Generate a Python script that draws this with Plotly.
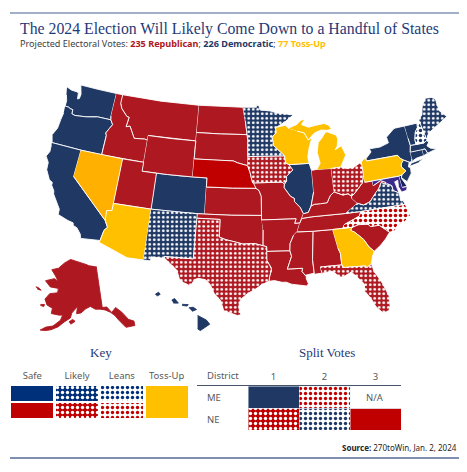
import numpy as np
import plotly.graph_objects as go

# state outlines as (lon, lat), None starts another polygon of the same state
WA = [(-124.7,48.38),(-123.9,48.17),(-123.1,48.15),(-122.75,48.1),(-122.6,47.4),(-122.35,47.5),(-122.3,48.0),(-122.5,48.45),(-122.75,49.0),(-120,49),(-117.03,49),(-117.04,46.42),(-116.92,45.99),(-118.98,46.0),(-119.3,45.93),(-120.5,45.72),(-121.2,45.65),(-122.25,45.55),(-122.76,45.65),(-122.8,46.1),(-123.2,46.15),(-123.55,46.26),(-124.05,46.27),(-124.1,46.9),(-124.4,47.5)]
OR = [(-124.05,46.27),(-123.55,46.26),(-123.2,46.15),(-122.8,46.1),(-122.76,45.65),(-122.25,45.55),(-121.2,45.65),(-120.5,45.72),(-119.3,45.93),(-118.98,46.0),(-116.92,45.99),(-116.5,45.5),(-116.85,45.0),(-117.2,44.45),(-117.03,44.2),(-117.03,42),(-120,42),(-124.2,42),(-124.55,42.84),(-124.1,43.7),(-124.05,44.7),(-123.95,45.5)]
CA = [(-124.2,42),(-120,42),(-120,39),(-114.63,35),(-114.15,34.3),(-114.5,33.9),(-114.72,32.72),(-117.12,32.53),(-117.3,33.0),(-117.9,33.6),(-118.4,33.75),(-118.5,34.03),(-119.2,34.15),(-120.6,34.55),(-120.65,35.15),(-121.9,36.6),(-122.0,36.95),(-122.5,37.5),(-122.5,37.8),(-123.0,38.0),(-123.75,39.0),(-123.85,39.8),(-124.4,40.4),(-124.1,41.0),(-124.2,41.75)]
NV = [(-120,42),(-117.03,42),(-114.04,42),(-114.04,37),(-114.05,36.2),(-114.7,36.1),(-114.63,35),(-120,39)]
AZ = [(-114.7,36.1),(-114.05,36.2),(-114.04,37),(-109.05,37),(-109.05,31.33),(-111.07,31.33),(-114.8,32.5),(-114.72,32.72),(-114.5,33.9),(-114.15,34.3),(-114.63,35)]
ID = [(-117.03,49),(-116.05,49),(-116.05,48),(-115.7,47.45),(-114.7,46.7),(-114.35,46.65),(-114.5,45.56),(-113.95,45.7),(-113.45,45.05),(-113.0,44.45),(-111.5,44.55),(-111.05,44.48),(-111.05,42),(-114.04,42),(-117.03,42),(-117.03,44.2),(-117.2,44.45),(-116.85,45),(-116.5,45.5),(-116.92,45.99),(-117.04,46.42)]
MT = [(-116.05,49),(-110,49),(-104.05,49),(-104.05,45),(-111.05,45),(-111.05,44.48),(-111.5,44.55),(-113,44.45),(-113.45,45.05),(-113.95,45.7),(-114.5,45.56),(-114.35,46.65),(-114.7,46.7),(-115.7,47.45),(-116.05,48)]
WY = [(-111.05,45),(-107.5,45),(-104.05,45),(-104.05,41),(-107.5,41),(-111.05,41)]
UT = [(-114.04,42),(-111.05,42),(-111.05,41),(-109.05,41),(-109.05,37),(-114.04,37)]
CO = [(-109.05,41),(-105.5,41),(-102.05,41),(-102.05,37),(-105.5,37),(-109.05,37)]
NM = [(-109.05,37),(-103,37),(-103.05,32),(-106.62,32),(-106.53,31.78),(-108.2,31.78),(-108.2,31.33),(-109.05,31.33)]
ND = [(-104.05,49),(-100.5,49),(-97.23,49),(-96.85,47.5),(-96.56,45.94),(-100.5,45.94),(-104.05,45.94)]
SD = [(-104.05,45.94),(-100.5,45.94),(-96.56,45.94),(-96.45,45.3),(-96.45,43.5),(-96.45,42.49),(-97.9,42.8),(-98.5,43.0),(-101.5,43),(-104.05,43),(-104.05,45)]
NE = [(-104.05,43),(-101.5,43),(-98.5,43),(-97.9,42.8),(-96.45,42.49),(-96.1,41.7),(-95.9,41.0),(-95.31,40),(-98.5,40),(-102.05,40),(-102.05,41),(-104.05,41)]
KS = [(-102.05,40),(-98.5,40),(-95.31,40),(-94.9,39.75),(-94.6,39.1),(-94.62,37),(-98.5,37),(-102.05,37)]
OK = [(-103,37),(-98.5,37),(-94.62,37),(-94.43,35.4),(-94.48,33.64),(-95.5,33.9),(-97.0,33.85),(-98.1,34.1),(-99.2,34.3),(-100,34.56),(-100,36.5),(-103,36.5)]
TX = [(-103,36.5),(-100,36.5),(-100,34.56),(-99.2,34.3),(-98.1,34.1),(-97,33.85),(-95.5,33.9),(-94.48,33.64),(-94.04,33.55),(-94.04,33.02),(-94.04,32),(-93.55,31.2),(-93.53,30.9),(-93.75,30.3),(-93.85,29.7),(-94.7,29.35),(-95.4,28.9),(-96.4,28.35),(-97.2,27.7),(-97.4,26.9),(-97.15,25.97),(-97.55,25.9),(-99.1,26.4),(-99.5,27.5),(-100.3,28.3),(-100.8,29.25),(-101.4,29.77),(-102.3,29.88),(-102.7,29.7),(-103.15,28.98),(-104.0,29.3),(-104.5,29.65),(-104.9,30.6),(-106.53,31.78),(-106.62,32),(-103.05,32)]
MN = [(-97.23,49),(-95.15,49),(-95.15,49.38),(-94.8,49.3),(-94.6,48.7),(-93.0,48.55),(-92,48.3),(-90.8,48.2),(-89.5,48.0),(-90.8,47.3),(-92.05,46.72),(-92.3,46.65),(-92.29,46.1),(-92.9,45.6),(-92.75,45),(-92.8,44.75),(-91.22,43.5),(-93.8,43.5),(-96.45,43.5),(-96.45,45.3),(-96.56,45.94),(-96.85,47.5)]
IA = [(-96.45,43.5),(-93.8,43.5),(-91.22,43.5),(-91.1,42.7),(-90.64,42.5),(-90.15,41.9),(-90.9,41.4),(-91.1,41.2),(-91.1,40.7),(-91.42,40.38),(-91.73,40.61),(-93.8,40.6),(-95.77,40.59),(-95.9,41),(-96.1,41.7),(-96.45,42.49)]
MO = [(-95.77,40.59),(-93.8,40.6),(-91.73,40.61),(-91.42,40.38),(-91.5,40.0),(-90.7,39.0),(-90.2,38.75),(-90.2,38.4),(-89.5,37.7),(-89.15,37.0),(-89.4,36.5),(-89.7,36),(-90.37,36),(-90.15,36.5),(-94.62,36.5),(-94.62,37),(-94.6,39.1),(-94.9,39.75),(-95.31,40)]
AR = [(-94.62,36.5),(-90.15,36.5),(-90.37,36),(-89.7,36),(-90.1,35.1),(-90.6,34.7),(-91.1,33.8),(-91.17,33),(-94.04,33.02),(-94.04,33.55),(-94.48,33.64),(-94.43,35.4)]
LA = [(-94.04,33.02),(-91.17,33),(-91.0,32.4),(-91.6,31.0),(-89.75,31),(-89.85,30.65),(-89.5,30.2),(-89.4,30.05),(-89.4,29.8),(-89.2,29.25),(-89.4,29.0),(-90.2,29.1),(-91.2,29.3),(-91.8,29.55),(-92.3,29.55),(-93.2,29.77),(-93.85,29.7),(-93.75,30.3),(-93.53,30.9),(-93.55,31.2),(-94.04,32)]
MS = [(-90.1,35.05),(-88.2,35),(-88.1,34.9),(-88.47,31.9),(-88.4,30.37),(-89.5,30.2),(-89.85,30.65),(-89.75,31),(-91.6,31),(-91,32.4),(-91.17,33),(-91.1,33.8),(-90.6,34.7)]
AL = [(-88.2,35),(-85.6,35),(-85.2,32.85),(-85,32.3),(-85,31),(-87.6,31),(-87.5,30.3),(-88.4,30.25),(-88.47,31.9),(-88.1,34.9)]
GA = [(-85.6,35),(-84.32,35),(-83.1,35),(-83.35,34.7),(-82.9,34.45),(-81.9,33.5),(-81.4,32.6),(-80.85,32.05),(-81.15,31.55),(-81.45,30.75),(-82.05,30.36),(-82.2,30.57),(-84.85,30.7),(-85,31),(-85,32.3),(-85.2,32.85)]
FL = [(-87.6,31),(-85,31),(-84.85,30.7),(-82.2,30.57),(-82.05,30.36),(-81.45,30.75),(-81.3,29.9),(-80.55,28.4),(-80.05,26.9),(-80.15,25.75),(-80.4,25.2),(-81.1,25.15),(-81.75,25.95),(-82.15,26.9),(-82.75,27.8),(-82.65,28.6),(-83.4,29.5),(-84.0,30.1),(-85.0,29.65),(-85.4,29.7),(-86.2,30.4),(-87.5,30.3)]
SC = [(-83.35,34.7),(-83.1,35),(-82.3,35.2),(-81.05,35.1),(-80.8,34.82),(-79.67,34.8),(-78.55,33.86),(-79.2,33.2),(-79.95,32.6),(-80.85,32.05),(-81.4,32.6),(-81.9,33.5),(-82.9,34.45)]
NC = [(-84.32,35),(-83.1,35),(-82.3,35.2),(-81.05,35.1),(-80.8,34.82),(-79.67,34.8),(-78.55,33.86),(-77.9,33.9),(-77.4,34.45),(-76.5,34.65),(-75.55,35.25),(-75.85,36.55),(-81.68,36.59),(-82,36.1),(-83,35.75),(-84.05,35.4)]
TN = [(-90.1,35.05),(-88.2,35),(-85.6,35),(-84.32,35),(-84.05,35.4),(-83,35.75),(-82,36.1),(-81.68,36.59),(-83.68,36.6),(-88.07,36.6),(-89.4,36.5),(-89.7,36)]
KY = [(-89.4,36.5),(-88.07,36.6),(-83.68,36.6),(-81.97,37.54),(-82.6,38.17),(-82.6,38.42),(-83.0,38.72),(-83.7,38.65),(-84.8,39.1),(-85.4,38.73),(-85.9,38.0),(-86.8,37.95),(-87.6,37.95),(-88.05,37.8),(-88.5,37.1),(-89.15,37)]
VA = [(-83.68,36.6),(-81.68,36.59),(-75.85,36.55),(-76.0,37.0),(-76.3,37.0),(-76.3,37.9),(-77.0,38.3),(-77.05,38.85),(-77.5,39.1),(-77.83,39.13),(-78.35,39.4),(-78.85,38.75),(-79.3,38.42),(-80.3,37.5),(-81.2,37.25),(-81.97,37.54)]
WV = [(-81.97,37.54),(-81.2,37.25),(-80.3,37.5),(-79.3,38.42),(-78.85,38.75),(-78.35,39.4),(-77.83,39.13),(-77.72,39.32),(-78.4,39.62),(-79.48,39.2),(-79.48,39.72),(-80.52,39.72),(-80.52,40.64),(-80.85,39.7),(-81.7,39.0),(-82.2,38.6),(-82.6,38.42),(-82.6,38.17)]
OH = [(-84.8,41.7),(-83.45,41.73),(-82.7,41.5),(-81.7,41.5),(-80.52,41.98),(-80.52,40.64),(-80.85,39.7),(-81.7,39),(-82.2,38.6),(-82.6,38.42),(-83,38.72),(-83.7,38.65),(-84.8,39.1)]
IN = [(-87.53,41.7),(-87.2,41.75),(-86.8,41.76),(-84.8,41.7),(-84.8,39.1),(-85.4,38.73),(-85.9,38.0),(-86.8,37.95),(-87.6,37.95),(-88.05,37.8),(-87.55,39.3)]
IL = [(-90.64,42.5),(-87.8,42.5),(-87.6,41.85),(-87.53,41.7),(-87.55,39.3),(-88.05,37.8),(-88.5,37.1),(-89.15,37),(-89.5,37.7),(-90.2,38.4),(-90.2,38.75),(-90.7,39),(-91.5,40),(-91.42,40.38),(-91.1,40.7),(-91.1,41.2),(-90.9,41.4),(-90.15,41.9)]
WI = [(-92.05,46.72),(-90.8,46.9),(-90.4,46.55),(-89.1,46.15),(-88.1,45.9),(-87.6,45.1),(-87.0,45.3),(-87.3,44.8),(-87.55,44.3),(-87.9,43.2),(-87.8,42.5),(-90.64,42.5),(-91.1,42.7),(-91.22,43.5),(-92.8,44.75),(-92.75,45),(-92.9,45.6),(-92.29,46.1),(-92.3,46.65)]
MI = [(-86.8,41.76),(-86.25,42.4),(-86.5,43.6),(-86.2,44.7),(-85.6,45.15),(-85.0,45.75),(-84.7,45.78),(-83.45,45.3),(-83.3,44.85),(-83.55,44.05),(-83.9,43.7),(-82.95,44.07),(-82.5,43.0),(-83.1,42.2),(-83.45,41.73),(-84.8,41.7),None,
      (-90.4,46.55),(-89.1,46.9),(-88.4,47.35),(-87.8,47.45),(-88.4,46.85),(-87.4,46.5),(-86.1,46.65),(-85.0,46.75),(-84.35,46.5),(-84.0,46.0),(-84.7,45.95),(-85.6,46.05),(-86.6,45.8),(-87.6,45.1),(-88.1,45.9),(-89.1,46.15)]
PA = [(-80.52,41.98),(-80.1,42.27),(-79.76,42.27),(-79.76,42),(-75.35,42),(-75.05,41.6),(-74.7,41.36),(-75.13,40.98),(-75.2,40.65),(-74.72,40.15),(-75.4,39.8),(-75.79,39.72),(-80.52,39.72)]
NY = [(-79.76,42.27),(-78.9,42.9),(-79.05,43.27),(-77.5,43.27),(-76.2,43.55),(-76.3,44.2),(-75,44.95),(-74.7,45),(-73.35,45),(-73.3,43.6),(-73.25,42.75),(-73.5,42.05),(-73.5,41.3),(-73.65,41.0),(-74.0,41.0),(-74.7,41.36),(-75.05,41.6),(-75.35,42),(-79.76,42),None,
      (-74.0,40.6),(-73.75,40.85),(-72.6,40.98),(-71.9,41.07),(-72.7,40.75)]
NJ = [(-74.7,41.36),(-74.0,41.0),(-74.25,40.5),(-74.0,40.4),(-74.1,39.75),(-74.9,38.95),(-75.55,39.5),(-75.4,39.8),(-74.72,40.15),(-75.2,40.65),(-75.13,40.98)]
DE = [(-75.79,39.72),(-75.4,39.8),(-75.55,39.45),(-75.05,38.45),(-75.7,38.46)]
MD = [(-79.48,39.72),(-75.79,39.72),(-75.7,38.46),(-75.05,38.45),(-75.25,38.03),(-75.95,37.95),(-76.2,38.6),(-76.1,39.3),(-76.55,39.2),(-76.45,38.4),(-76.3,37.9),(-77,38.3),(-77.05,38.85),(-77.5,39.1),(-77.83,39.13),(-77.72,39.32),(-78.4,39.62),(-79.48,39.2)]
CT = [(-73.5,42.05),(-71.8,42.02),(-71.8,41.35),(-72.9,41.25),(-73.65,41.0),(-73.5,41.3)]
RI = [(-71.8,42.02),(-71.38,42.02),(-71.2,41.5),(-71.8,41.35)]
MA = [(-73.5,42.05),(-73.25,42.75),(-72.45,42.73),(-71.3,42.7),(-70.85,42.87),(-70.6,42.65),(-71.0,42.3),(-70.6,41.95),(-70.05,41.8),(-70.0,42.05),(-69.95,41.7),(-70.65,41.55),(-71.2,41.5),(-71.38,42.02),(-71.8,42.02)]
VT = [(-73.35,45),(-71.5,45),(-71.6,44.5),(-72.05,44.1),(-72.4,43.3),(-72.45,42.73),(-73.25,42.75),(-73.3,43.6)]
NH = [(-71.5,45),(-71.1,45.3),(-70.8,43.1),(-70.7,43.07),(-70.85,42.87),(-71.3,42.7),(-72.45,42.73),(-72.4,43.3),(-72.05,44.1),(-71.6,44.5)]
ME = [(-71.1,45.3),(-70.4,45.8),(-70.25,46.2),(-70,46.7),(-69.2,47.45),(-68.3,47.35),(-67.8,47.07),(-67.8,45.7),(-67.0,44.85),(-68.5,44.3),(-69.5,43.85),(-70.3,43.6),(-70.7,43.07),(-70.8,43.1)]
AK = [(-141,69.65),(-141,60.3),(-139.1,60.3),(-137.5,58.9),(-135.5,59.8),(-133.5,58.5),(-131.8,56.6),(-130,55.9),(-130.2,54.9),(-131.5,55),(-133.5,55),(-135.5,57),(-136.5,58.1),(-138,59),(-140,59.7),(-142,60),(-144,60.1),(-146,60.8),(-148,60.3),(-150,59.4),(-151.8,59.2),(-151.5,60.8),(-152.6,60.2),(-153.8,59.3),(-154.2,58.2),(-156.5,57.2),(-158.5,56.0),(-161,55.1),(-163,54.7),(-164.8,54.6),(-163,55.5),(-160.5,56),(-158,57.5),(-157.4,58.7),(-158.8,58.6),(-162,58.7),(-162,59.9),(-164.5,60.4),(-166,61.6),(-164.5,63.0),(-161,63.5),(-161,64.5),(-165,64.5),(-168.1,65.6),(-164,66.5),(-161.8,66.1),(-163.8,67.2),(-166.5,68.35),(-163,69),(-160,70.4),(-156.6,71.35),(-152,70.85),(-146,70.15),None,
      (-154.7,57.3),(-153.3,57.9),(-152.3,57.5),(-153.9,56.8),None,
      (-171.7,63.7),(-170.3,63.7),(-168.8,63.3),(-170.5,63.3),None,
      (-167.2,60.2),(-165.6,60.4),(-165.7,59.9),(-167.2,60.0)]
HI = [(-159.75,22.05),(-159.45,22.23),(-159.3,22.05),(-159.6,21.9),None,
      (-158.25,21.55),(-158.0,21.7),(-157.65,21.3),(-158.1,21.3),None,
      (-157.3,21.2),(-156.75,21.17),(-156.85,21.05),(-157.3,21.1),None,
      (-156.7,20.9),(-156.3,20.95),(-156.0,20.75),(-156.4,20.6),None,
      (-155.9,20.25),(-155.1,19.85),(-154.8,19.5),(-155.65,18.95),(-155.9,19.1)]

OUTLINES = dict(WA=WA, OR=OR, CA=CA, NV=NV, AZ=AZ, ID=ID, MT=MT, WY=WY, UT=UT, CO=CO, NM=NM, ND=ND, SD=SD,
                NE=NE, KS=KS, OK=OK, TX=TX, MN=MN, IA=IA, MO=MO, AR=AR, LA=LA, MS=MS, AL=AL, GA=GA, FL=FL,
                SC=SC, NC=NC, TN=TN, KY=KY, VA=VA, WV=WV, OH=OH, IN=IN, IL=IL, WI=WI, MI=MI, PA=PA, NY=NY,
                NJ=NJ, DE=DE, MD=MD, CT=CT, RI=RI, MA=MA, VT=VT, NH=NH, ME=ME, AK=AK, HI=HI)

# ratings
SAFE_R = ["MT", "ID", "WY", "UT", "ND", "SD", "KS", "OK", "MO", "AR", "LA", "MS", "AL", "TN", "KY", "WV", "IN", "SC", "AK"]
SAFE_R_BRIGHT = ["NE"]
LIKELY_R = ["TX", "FL", "IA", "OH"]
LEANS_R = ["NC"]
TOSS_UP = ["AZ", "WI", "MI", "PA", "GA"]
TOSS_UP_DARK = ["NV"]
SAFE_D = ["WA", "OR", "CA", "CO", "IL", "NY", "VT", "MA", "CT", "RI", "NJ", "HI"]
SAFE_D_MD = ["MD"]
SAFE_D_DE = ["DE"]
LIKELY_D = ["MN", "NM", "VA", "ME"]
LEANS_D = ["NH"]

KEY_COLUMNS = ["Safe", "Likely", "Leans", "Toss-Up"]
KEY_REP = [1, 1, 1, 0]
KEY_DEM = [1, 1, 1, 0]
KEY_TOSS = [0, 0, 0, 2]
SPLIT_DISTRICTS = ["1", "2", "3"]
SPLIT_ME = [1, 1, 0]
SPLIT_NE = [1, 1, 1]

NAVY = "#1F3864"
RED = "#AE1820"
BRIGHT_RED = "#C00000"
GOLD = "#FFC000"
KEY_NAVY = "#00307A"
GREY = "#595959"
SANS = "Noto Sans"
SERIF = "Liberation Serif"

# the page body has an 8px margin, so the figure covers page pixels 8..467 and 8..472
PAGE_W, PAGE_H, BODY = 467, 472, 8


def albers(lon, lat, lon0, p1, p2):
    n = (np.sin(np.radians(p1)) + np.sin(np.radians(p2))) / 2
    c = np.cos(np.radians(p1)) ** 2 + 2 * n * np.sin(np.radians(p1))
    rho = np.sqrt(c - 2 * n * np.sin(np.radians(lat))) / n
    theta = n * np.radians(lon - lon0)
    return rho * np.sin(theta), rho * np.cos(theta)


def project(state, lon, lat):
    # map units line up with the page, 467 x 472
    if state == "AK":
        x, y = albers(lon, lat, -150, 55, 65)
        return 81 + 275 * x, 163 + 255 * y
    if state == "HI":
        return 202 + 11 * (lon + 155.5), 323 - 11.7 * (lat - 19.6)
    x, y = albers(lon, lat, -96, 29.5, 45.5)
    return 250.9 + 555.6 * x, 211 - 515 * (1.3033 - y)


def state_trace(state, color, pattern=None):
    xs, ys = [], []
    for pt in OUTLINES[state]:
        if pt is None:
            xs.append(None)
            ys.append(None)
        else:
            px_, py_ = project(state, pt[0], pt[1])
            xs.append(px_)
            ys.append(py_)
    kw = dict(fillpattern=pattern) if pattern else dict(fillcolor=color)
    # thin peninsulas and islands would vanish under a white outline
    line_color = color if state in ("AK", "HI") else "white"
    return go.Scatter(x=xs, y=ys, mode="lines", fill="toself", line=dict(color=line_color, width=0.9),
                      name=state, hoverinfo="name", showlegend=False, **kw)


likely_r = dict(shape=".", bgcolor=RED, fgcolor="white", size=4.5, solidity=0.3, fgopacity=1)
likely_d = dict(shape=".", bgcolor=NAVY, fgcolor="white", size=4.5, solidity=0.3, fgopacity=1)
leans_r = dict(shape=".", bgcolor="white", fgcolor=BRIGHT_RED, size=5, solidity=0.38, fgopacity=1)
leans_d = dict(shape=".", bgcolor="white", fgcolor=NAVY, size=5, solidity=0.38, fgopacity=1)

fig = go.Figure()
for group, color, pattern in [
    (SAFE_D, NAVY, None), (SAFE_R, RED, None), (SAFE_R_BRIGHT, BRIGHT_RED, None),
    (TOSS_UP, GOLD, None), (TOSS_UP_DARK, "#FFB000", None), (SAFE_D_MD, "#3B2A8C", None),
    (SAFE_D_DE, "#14235E", None), (LIKELY_R, RED, likely_r), (LIKELY_D, NAVY, likely_d),
    (LEANS_R, RED, leans_r), (LEANS_D, NAVY, leans_d),
]:
    for st in group:
        fig.add_trace(state_trace(st, color, pattern))

# key
key_line = dict(color="white", width=1.5)
fig.add_trace(go.Bar(x=KEY_COLUMNS, y=KEY_REP, xaxis="x2", yaxis="y2", marker=dict(
    color=BRIGHT_RED, line=key_line,
    pattern=dict(shape=["", ".", ".", ""], bgcolor=[BRIGHT_RED, BRIGHT_RED, "white", BRIGHT_RED],
                 fgcolor=["white", "white", BRIGHT_RED, "white"], size=5, solidity=0.35, fgopacity=1))))
fig.add_trace(go.Bar(x=KEY_COLUMNS, y=KEY_DEM, xaxis="x2", yaxis="y2", marker=dict(
    color=KEY_NAVY, line=key_line,
    pattern=dict(shape=["", ".", ".", ""], bgcolor=[KEY_NAVY, KEY_NAVY, "white", KEY_NAVY],
                 fgcolor=["white", "white", KEY_NAVY, "white"], size=5, solidity=0.35, fgopacity=1))))
fig.add_trace(go.Bar(x=KEY_COLUMNS, y=KEY_TOSS, xaxis="x2", yaxis="y2", marker=dict(color=GOLD, line=key_line)))

# split votes table
fig.add_trace(go.Bar(x=SPLIT_DISTRICTS, y=SPLIT_NE, xaxis="x3", yaxis="y3", width=1, marker=dict(
    color=BRIGHT_RED,
    pattern=dict(shape=[".", ".", ""], bgcolor=[BRIGHT_RED, "white", BRIGHT_RED],
                 fgcolor=["white", NAVY, "white"], size=5, solidity=0.35, fgopacity=1))))
fig.add_trace(go.Bar(x=SPLIT_DISTRICTS, y=SPLIT_ME, xaxis="x3", yaxis="y3", width=1, marker=dict(
    color=NAVY,
    pattern=dict(shape=["", ".", ""], bgcolor=[NAVY, "white", NAVY],
                 fgcolor=["white", BRIGHT_RED, "white"], size=5, solidity=0.35, fgopacity=1))))


def dom_x(a, b):
    return [(a - BODY) / (PAGE_W - BODY), (b - BODY) / (PAGE_W - BODY)]


def dom_y(top, bottom):
    return [(PAGE_H - bottom) / (PAGE_H - BODY), (PAGE_H - top) / (PAGE_H - BODY)]


small_tick = dict(size=9.5, color=GREY, family=SANS)
fig.update_layout(
    width=PAGE_W - BODY, height=PAGE_H - BODY, margin=dict(l=0, r=0, t=0, b=0),
    paper_bgcolor="white", plot_bgcolor="rgba(0,0,0,0)", showlegend=False,
    barmode="stack", bargap=0.03,
    xaxis=dict(range=[BODY, PAGE_W], visible=False, domain=[0, 1]),
    yaxis=dict(range=[PAGE_H, BODY], visible=False, domain=[0, 1]),
    xaxis2=dict(domain=dom_x(10, 189), anchor="y2", side="top", tickfont=small_tick, ticks="",
                showline=False, showgrid=False, zeroline=False, ticklabelstandoff=3),
    yaxis2=dict(domain=dom_y(385, 419), anchor="x2", range=[0, 2], visible=False),
    xaxis3=dict(domain=dom_x(248, 401), anchor="y3", side="top", tickfont=small_tick, ticks="",
                showline=False, showgrid=False, zeroline=False, ticklabelstandoff=3),
    yaxis3=dict(domain=dom_y(386, 430), anchor="x3", range=[0, 2], visible=False),
    shapes=[
        dict(type="line", xref="x", yref="y", x0=10, x1=463, y0=13, y1=13, line=dict(color="#44608F", width=1)),
        dict(type="line", xref="x", yref="y", x0=10, x1=463, y0=458, y1=458, line=dict(color="#002060", width=1)),
        dict(type="line", xref="x", yref="y", x0=197, x1=401, y0=385.5, y1=385.5, line=dict(color="#44546A", width=1)),
    ],
)


def label(x, y, text, size=9.5, color=GREY, family=SANS, anchor="left"):
    fig.add_annotation(x=x, y=y, xref="x", yref="y", text=text, showarrow=False, xanchor=anchor, yanchor="middle",
                       font=dict(size=size, color=color, family=family), borderpad=0, borderwidth=0)


label(20, 29, "The 2024 Election Will Likely Come Down to a Handful of States", size=15.8, color="#1F3A78", family=SERIF)
label(20, 43, 'Projected Electoral Votes: <span style="color:#AE1820"><b>235 Republican</b></span>; '
      '<span style="color:#1F3864"><b>226 Democratic</b></span>; <span style="color:#FFC000"><b>77 Toss-Up</b></span>',
      size=9.1, color="#404040")
label(101, 352, "Key", size=13, color="#1F3A78", family=SERIF, anchor="center")
label(327, 352, "Split Votes", size=13, color="#1F3A78", family=SERIF, anchor="center")
label(207, 375, "District")
label(207, 397, "ME")
label(207, 419, "NE")
label(375, 397, "N/A", anchor="center")
label(457, 447, "<b>Source:</b> 270toWin, Jan. 2, 2024", size=8, color="#262626", anchor="right")

fig.write_html("out.html")
